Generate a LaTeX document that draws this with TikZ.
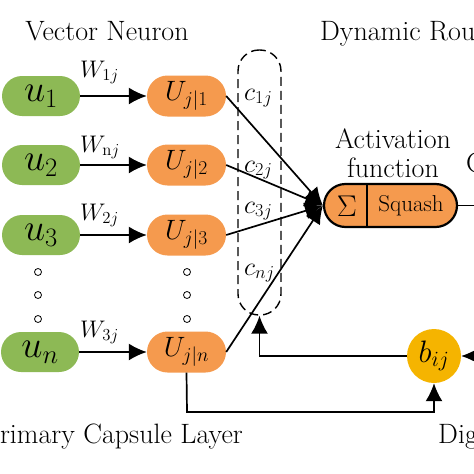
\RequirePackage{fix-cm}
\documentclass[tikz,border=0pt]{standalone}
\usetikzlibrary{arrows.meta,shapes.misc}
\definecolor{grn}{HTML}{8DB955}
\definecolor{orng}{HTML}{F59A4E}
\definecolor{gold}{HTML}{F5B400}
\begin{document}
\begin{tikzpicture}[x=1pt,y=-1pt,
  unode/.style={fill=grn, rounded rectangle, minimum width=78pt, minimum height=40pt, inner sep=0pt},
  vnode/.style={fill=orng, rounded rectangle, minimum width=79pt, minimum height=41pt, inner sep=0pt},
  arr/.style={line width=1.7pt, -{Latex[length=18pt,width=17pt]}},
  ln/.style={line width=1.7pt},
  smalldot/.style={circle, draw, line width=0.8pt, fill=white, minimum size=7pt, inner sep=0pt},
  lbl/.style={font=\fontsize{28}{33}\selectfont, inner sep=0pt},
  ufont/.style={font=\fontsize{38}{40}\selectfont},
  vfont/.style={font=\fontsize{28}{30}\selectfont},
  wlbl/.style={font=\fontsize{24}{26}\selectfont, inner sep=0pt, anchor=base west},
  clbl/.style={font=\fontsize{26}{28}\selectfont, inner sep=0pt, anchor=base west},
]
\useasboundingbox (0,0) rectangle (474,474);
\clip (0,0) rectangle (474,474);

% titles
\node[lbl, anchor=base] (t1) at (107,40) {Vector Neuron};
\node[lbl, anchor=base west] (t2) at (320,40) {Dynamic Routing};
\node[lbl, anchor=base east] (t3) at (243,443) {Primary Capsule Layer};
\node[lbl, anchor=base west] (t4) at (438,443) {Digit Capsule Layer};
\node[lbl, anchor=base west] (t5) at (466,172) {C};
\node[lbl, anchor=base] (t6) at (393,148) {Activation};
\node[lbl, anchor=base] (t7) at (393,177) {function};

% input vectors
\node[unode, ufont] (u1) at (41,96) {$u_1$};
\node[unode, ufont] (u2) at (41,165) {$u_2$};
\node[unode, ufont] (u3) at (41,235) {$u_3$};
\node[unode, ufont] (un) at (40,352) {$u_n$};

% predictions
\node[vnode, vfont] (v1) at (186.5,96) {$U_{j|1}$};
\node[vnode, vfont] (v2) at (186.5,165) {$U_{j|2}$};
\node[vnode, vfont] (v3) at (186.5,235) {$U_{j|3}$};
\node[vnode, vfont] (vn) at (186.5,352) {$U_{j|n}$};

% dots
\node[smalldot] (dl1) at (38,272) {};
\node[smalldot] (dl2) at (38,295) {};
\node[smalldot] (dl3) at (38,319) {};
\node[smalldot] (dr1) at (187,272) {};
\node[smalldot] (dr2) at (187,295) {};
\node[smalldot] (dr3) at (187,319) {};

% weight arrows
\draw[arr] (u1) -- (v1);
\draw[arr] (u2) -- (v2);
\draw[arr] (u3) -- (v3);
\draw[arr] (un) -- (vn);
\node[wlbl] (w1) at (80,77) {$W_{1j}$};
\node[wlbl] (w2) at (80,152) {$W_{\mathrm{n}j}$};
\node[wlbl] (w3) at (80,220) {$W_{2j}$};
\node[wlbl] (w4) at (80,337) {$W_{3j}$};

% coupling box
\node[draw, dash pattern=on 9pt off 5pt, line width=1.4pt, rounded corners=21pt,
      minimum width=43pt, minimum height=265pt, inner sep=0pt] (cbox) at (259.5,182.5) {};
\node[clbl] (c1) at (244,100) {$c_{1j}$};
\node[clbl] (c2) at (244,172) {$c_{2j}$};
\node[clbl] (c3) at (244,213) {$c_{3j}$};
\node[clbl] (c4) at (244,275) {$c_{nj}$};

% activation
\node[rounded rectangle, draw, fill=orng, line width=2.2pt, minimum width=133pt,
      minimum height=43pt, inner sep=0pt] (act) at (390.5,205.5) {};
\coordinate (divt) at (367,184);
\coordinate (divb) at (367,227);
\draw[line width=1.2pt] (divt) -- (divb);
\node[font=\fontsize{30}{32}\selectfont, inner sep=0pt] (sig) at (347,206) {$\Sigma$};
\node[font=\fontsize{23}{25}\selectfont, inner sep=0pt] (sq) at (411,206) {Squash};

\draw[arr] (v1.east) -- (act.west);
\draw[arr] (v2.east) -- (act.west);
\draw[arr] (v3.east) -- (act.west);
\draw[arr] (vn.east) -- (act.west);

\coordinate (aout) at (490,205.5);
\draw[ln] (act.east) -- (aout);

% routing feedback
\node[circle, fill=gold, minimum size=54pt, inner sep=0pt,
      font=\fontsize{31}{33}\selectfont] (b) at (434,356) {$b_{ij}$};
\coordinate (bin) at (495,356);
\draw[arr] (bin) -- (b.east);
\draw[arr] (b.west) -| (cbox.south);
\coordinate (turn) at (187,412);
\draw[arr] (vn.south) -- (turn) -| (b.south);
\end{tikzpicture}
\end{document}
